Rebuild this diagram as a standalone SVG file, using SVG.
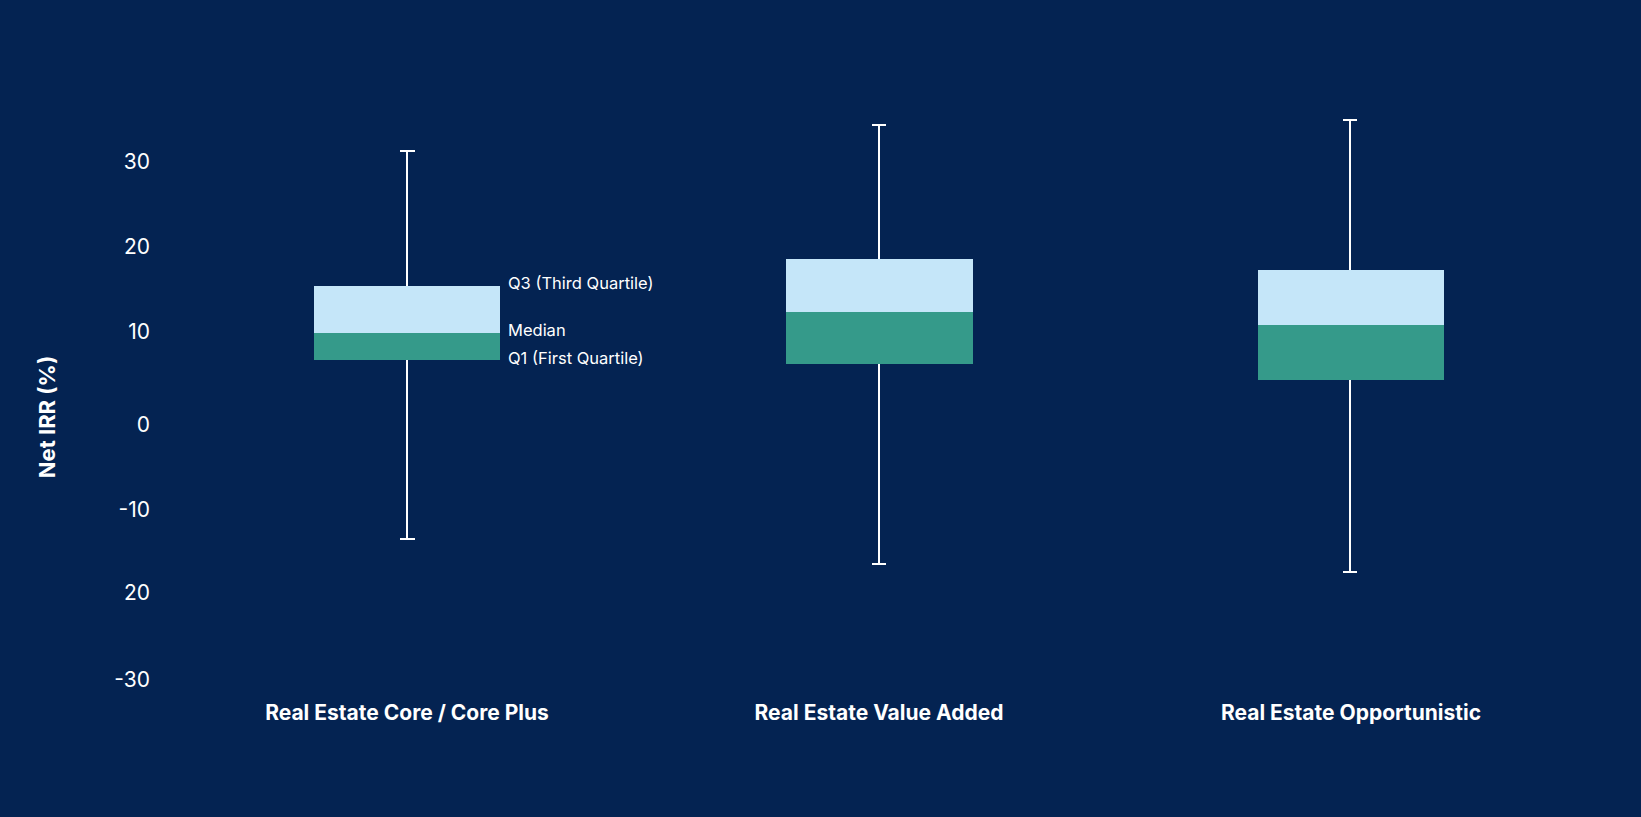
<svg xmlns="http://www.w3.org/2000/svg" width="1641" height="817" viewBox="0 0 1641 817">
<style>
.t{font-family:"Inter","Liberation Sans",sans-serif;fill:#fff}
.tick{font-size:21px;text-anchor:end}
.cat{font-size:21px;font-weight:bold;text-anchor:middle}
.ann{font-size:16.5px}
.q3{fill:#c5e6f9}.q1{fill:#359a8a}
.w{stroke:#fff;stroke-width:2;fill:none}
</style>
<rect width="1641" height="817" fill="#042352"/>
<g id="axis">
<text class="t tick" x="150" y="169">30</text>
<text class="t tick" x="150" y="254">20</text>
<text class="t tick" x="150" y="339">10</text>
<text class="t tick" x="150" y="432">0</text>
<text class="t tick" x="150" y="517">-10</text>
<text class="t tick" x="150" y="600">20</text>
<text class="t tick" x="150" y="687">-30</text>
<text class="t" font-size="22" font-weight="bold" text-anchor="middle" transform="translate(55,417) rotate(-90)">Net IRR (%)</text>
</g>
<g id="connectors">
<path class="w" d="M407 151V286M407 360V539M400 151H415M400 539H415"/>
<path class="w" d="M879 125V259M879 364V564M872 125H886M872 564H886"/>
<path class="w" d="M1350 120V270M1350 380V572M1343 120H1357M1343 572H1357"/>
</g>
<g id="box1">
<rect class="q3" x="314" y="286" width="186" height="47"/>
<rect class="q1" x="314" y="333" width="186" height="27"/>
<text class="t ann" x="508" y="289">Q3 (Third Quartile)</text>
<text class="t ann" x="508" y="336">Median</text>
<text class="t ann" x="508" y="364">Q1 (First Quartile)</text>
<text class="t cat" x="407" y="720">Real Estate Core / Core Plus</text>
</g>
<g id="box2">
<rect class="q3" x="786" y="259" width="187" height="53"/>
<rect class="q1" x="786" y="312" width="187" height="52"/>
<text class="t cat" x="879" y="720">Real Estate Value Added</text>
</g>
<g id="box3">
<rect class="q3" x="1258" y="270" width="186" height="55"/>
<rect class="q1" x="1258" y="325" width="186" height="55"/>
<text class="t cat" x="1351" y="720">Real Estate Opportunistic</text>
</g>
</svg>
